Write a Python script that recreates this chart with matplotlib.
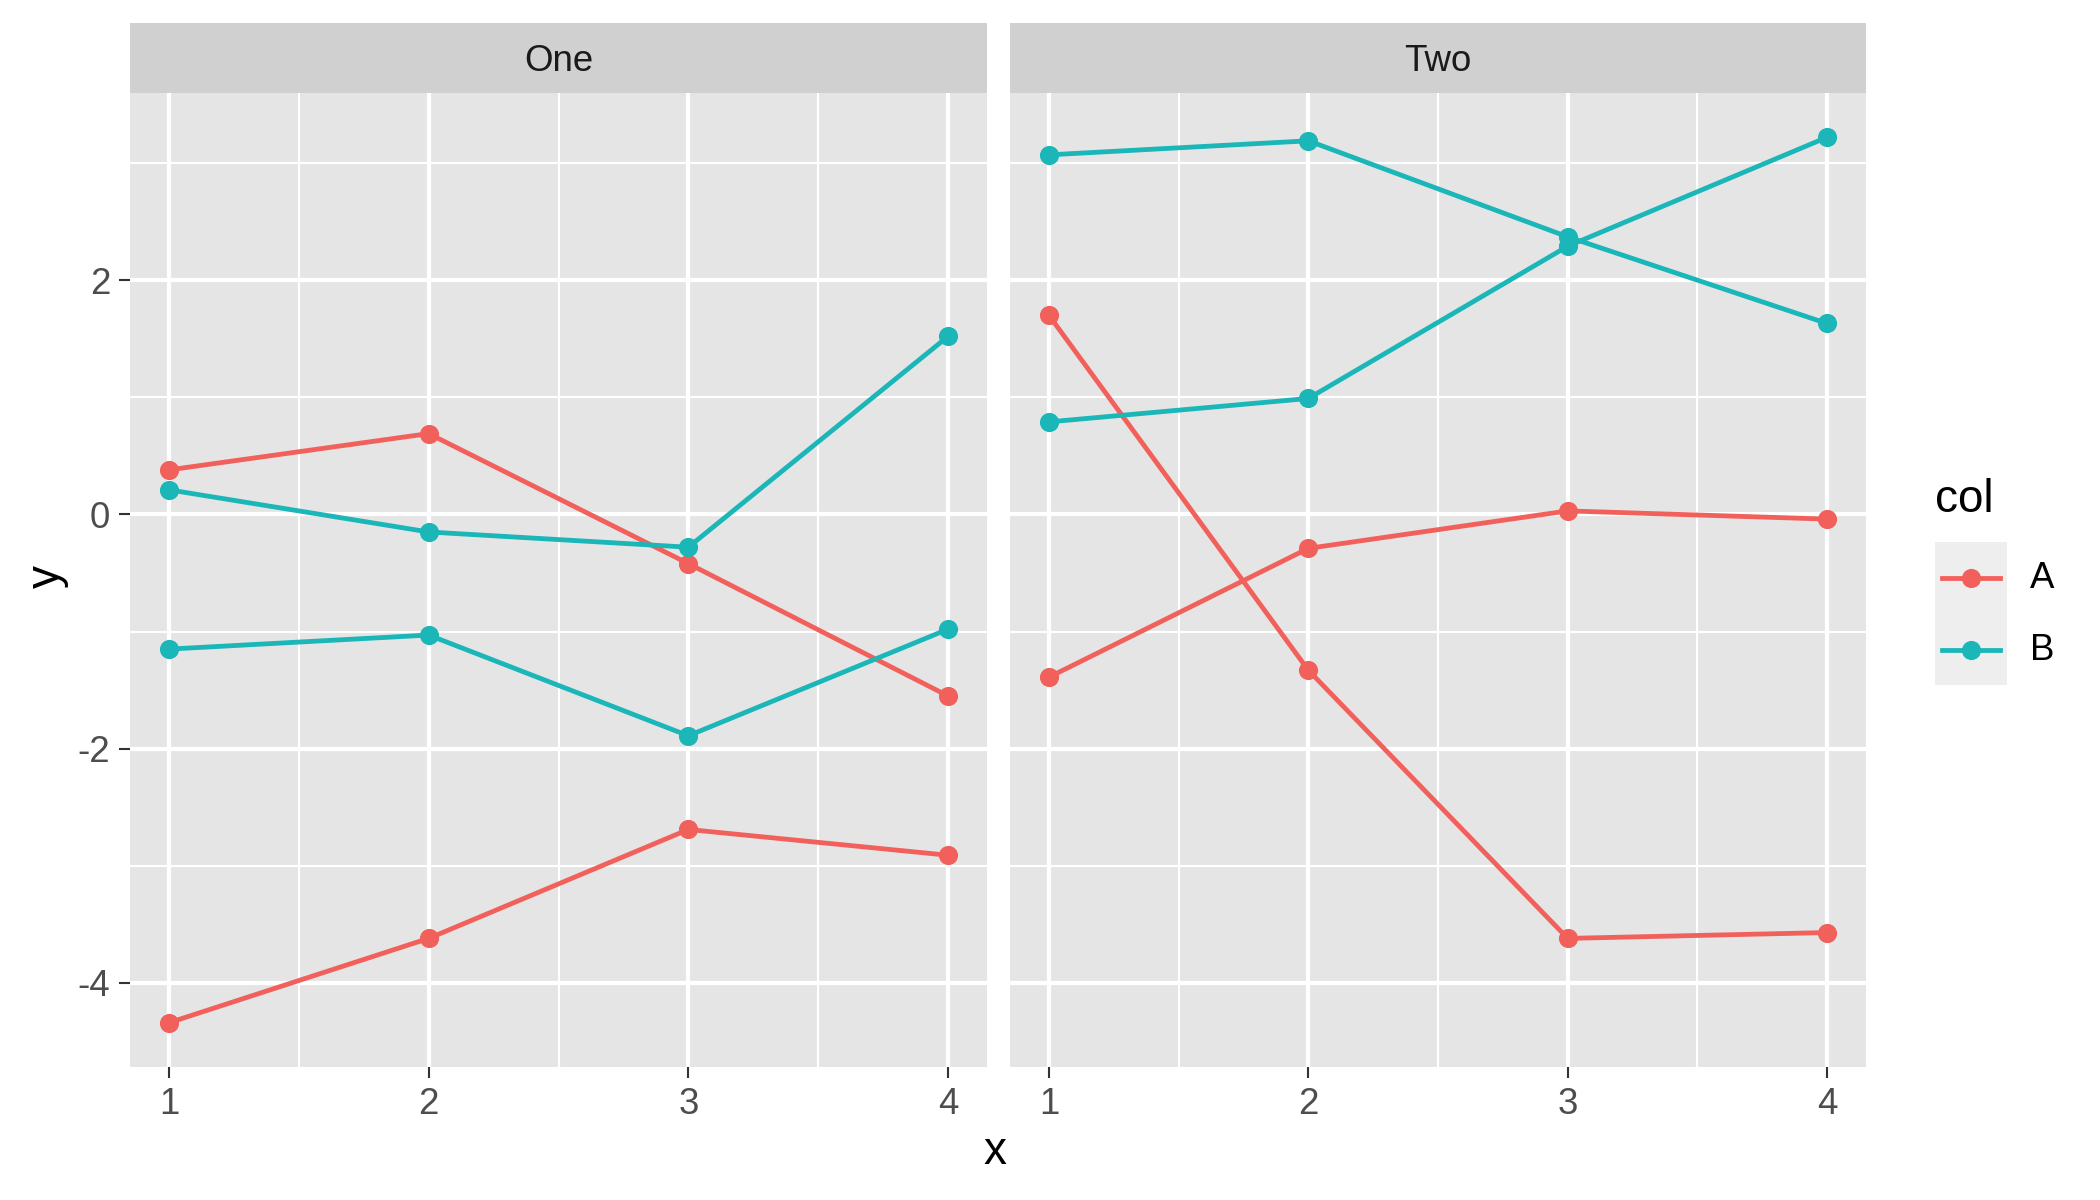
import matplotlib
matplotlib.use("Agg")
import matplotlib.pyplot as plt
from matplotlib.lines import Line2D
from matplotlib.patches import Rectangle

plt.rcParams["font.family"] = ["Liberation Sans", "DejaVu Sans"]

X = [1, 2, 3, 4]
PANELS = ["One", "Two"]
# two lines per colour group in each panel
ONE_A = [[0.38, 0.69, -0.42, -1.55], [-4.34, -3.62, -2.69, -2.91]]
ONE_B = [[0.21, -0.15, -0.28, 1.52], [-1.15, -1.03, -1.89, -0.98]]
TWO_A = [[1.70, -1.33, -3.62, -3.57], [-1.39, -0.29, 0.03, -0.04]]
TWO_B = [[3.07, 3.19, 2.37, 1.63], [0.79, 0.99, 2.29, 3.22]]
GROUPS = ["A", "B"]
COLORS = {"A": "#F2605C", "B": "#1AB6B8"}

W, H = 2100, 1200
fig = plt.figure(figsize=(7, 4), dpi=300)

# panel extents in pixels
px = [(130, 987), (1010, 1866)]
p_top, p_bot, s_top = 93, 1067, 23

all_y = [v for s in ONE_A + ONE_B + TWO_A + TWO_B for v in s]
ymin, ymax = min(all_y), max(all_y)
pad = (ymax - ymin) * 0.05

data = {"One": {"A": ONE_A, "B": ONE_B}, "Two": {"A": TWO_A, "B": TWO_B}}

for i, (name, (x0, x1)) in enumerate(zip(PANELS, px)):
    ax = fig.add_axes([x0 / W, 1 - p_bot / H, (x1 - x0) / W, (p_bot - p_top) / H])
    ax.set_facecolor("#E5E5E5")
    ax.set_xlim(0.85, 4.15)
    ax.set_ylim(ymin - pad, ymax + pad)
    ax.set_xticks(X)
    ax.set_xticks([1.5, 2.5, 3.5], minor=True)
    ax.set_yticks([-4, -2, 0, 2])
    ax.set_yticks([-3, -1, 1, 3], minor=True)
    ax.grid(True, which="major", color="white", lw=1.0)
    ax.grid(True, which="minor", color="white", lw=0.5)
    ax.set_axisbelow(True)
    for sp in ax.spines.values():
        sp.set_visible(False)
    ax.tick_params(which="major", length=2.75, width=0.5, color="#333333",
                   labelsize=8.8, labelcolor="#4D4D4D", pad=2)
    ax.tick_params(which="minor", length=0)
    ax.set_xticklabels([str(v) for v in X])
    if i == 0:
        ax.set_yticklabels(["-4", "-2", "0", "2"])
    else:
        ax.tick_params(axis="y", which="both", left=False, labelleft=False)
    for g in GROUPS:
        for series in data[name][g]:
            ax.plot(X, series, color=COLORS[g], lw=1.15, marker="o", ms=4.6,
                    markeredgewidth=0, solid_capstyle="butt")
    # facet strip
    sax = fig.add_axes([x0 / W, 1 - p_top / H, (x1 - x0) / W, (p_top - s_top) / H])
    sax.set_facecolor("#D0D0D0")
    sax.set_xticks([])
    sax.set_yticks([])
    for sp in sax.spines.values():
        sp.set_visible(False)
    sax.text(0.5, 0.45, name, ha="center", va="center", fontsize=8.8,
             color="#1A1A1A", transform=sax.transAxes)

fig.text(995 / W, 1 - 1152 / H, "x", ha="center", va="center", fontsize=11)
fig.text(47 / W, 1 - 576 / H, "y", ha="center", va="center", fontsize=11, rotation=90)

# legend
fig.text(1935 / W, 1 - 500 / H, "col", ha="left", va="center", fontsize=11)
key_l, key_r = 1935, 2007
fig.patches.append(Rectangle((key_l / W, 1 - 685 / H), (key_r - key_l) / W, 143 / H,
                             transform=fig.transFigure, facecolor="#EEEEEE",
                             edgecolor="none"))
for g, yk in zip(GROUPS, [578, 650]):
    yy = 1 - yk / H
    fig.lines.append(Line2D([(key_l + 7) / W, (key_r - 7) / W], [yy, yy],
                            transform=fig.transFigure, color=COLORS[g], lw=1.15))
    fig.lines.append(Line2D([(key_l + key_r) / 2 / W], [yy], transform=fig.transFigure,
                            color=COLORS[g], marker="o", ms=4.6, markeredgewidth=0))
    fig.text(2030 / W, yy, g, ha="left", va="center", fontsize=8.8)

fig.savefig("out.png", dpi=300, facecolor="white")
